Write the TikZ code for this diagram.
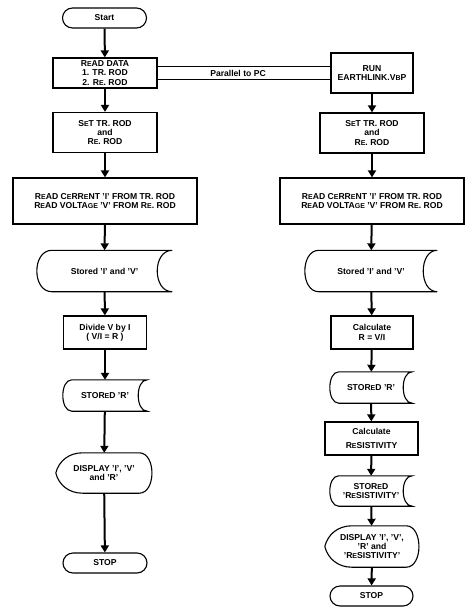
\documentclass[tikz,border=0pt]{standalone}
\usepackage{fontspec}
\setmainfont{Liberation Sans}
\usetikzlibrary{arrows.meta}

% smaller capitals inside the upper case words
\newcommand{\lowcap}[1]{{\fontsize{7}{8}\selectfont #1}}

\tikzset{
  txt/.style={align=center, inner sep=0pt, font=\bfseries\fontsize{8.6}{9.4}\selectfont},
  box/.style={txt, draw, line width=1.2pt},
  term/.style={txt, draw, line width=1.1pt, rounded corners=10pt},
  flow/.style={line width=2pt, -{Triangle[length=7pt,width=8pt]}},
}

\begin{document}
\begin{tikzpicture}[x=1pt, y=-1pt]
\useasboundingbox (0,0) rectangle (474,611);

% left column
\node[term, minimum width=84pt, minimum height=20pt] (start) at (104.5,18) {Start};
\node[box, minimum width=104pt, minimum height=30pt] (readdata) at (105,73) {R\lowcap{E}AD DATA\\ 1. TR. ROD\\ 2. R\lowcap{E}. ROD};
\node[box, minimum width=104pt, minimum height=40pt] (setL) at (105,132.5) {S\lowcap{E}T TR. ROD\\ and\\ R\lowcap{E}. ROD};
\node[box, minimum width=184pt, minimum height=46pt] (readL) at (105,201) {R\lowcap{E}AD C\lowcap{E}RR\lowcap{E}NT 'I' FROM TR. ROD\\ R\lowcap{E}AD VOLTA\lowcap{GE} 'V' FROM R\lowcap{E}. ROD};
\node[txt, minimum width=135pt, minimum height=41pt] (storeL) at (104.5,271) {Stored 'I' and 'V'};
\node[box, minimum width=83pt, minimum height=33pt] (divide) at (105,332.5) {Divide V by I\\ ( V/I = R )};
\node[txt, minimum width=84pt, minimum height=31pt] (storeRL) at (105,395.5) {STOR\lowcap{E}D 'R'};
\node[txt, minimum width=96pt, minimum height=40pt] (showL) at (104,473) {DISPLAY 'I', 'V'\\ and 'R'};
\node[term, minimum width=84pt, minimum height=20pt] (stopL) at (105,563) {STOP};

% right column
\node[box, minimum width=82pt, minimum height=40pt] (run) at (372,73) {RUN\\ EARTHLINK.V\lowcap{B}P};
\node[box, minimum width=104pt, minimum height=40pt] (setR) at (372,133) {S\lowcap{E}T TR. ROD\\ and\\ R\lowcap{E}. ROD};
\node[box, minimum width=184pt, minimum height=46pt] (readR) at (372,201) {R\lowcap{E}AD C\lowcap{E}RR\lowcap{E}NT 'I' FROM TR. ROD\\ R\lowcap{E}AD VOLTA\lowcap{GE} 'V' FROM R\lowcap{E}. ROD};
\node[txt, minimum width=132pt, minimum height=41pt] (storeR) at (371,271) {Stored 'I' and 'V'};
\node[box, minimum width=82pt, minimum height=33pt] (calc) at (372,332.5) {Calculate\\ R = V/I};
\node[txt, minimum width=82pt, minimum height=31pt] (storeRR) at (371,387.5) {STOR\lowcap{E}D 'R'};
\node[box, minimum width=93pt, minimum height=33pt] (calcres) at (371.5,438.5) {Calculate\\[5pt] R\lowcap{E}SISTIVITY};
\node[txt, minimum width=82pt, minimum height=30pt] (storeres) at (371,491) {STOR\lowcap{E}D\\ 'R\lowcap{E}SISTIVITY'};
\node[txt, minimum width=94pt, minimum height=41pt] (showR) at (372,546.5) {DISPLAY 'I', 'V',\\ 'R' and\\ 'R\lowcap{E}SISTIVITY'};
\node[term, minimum width=83pt, minimum height=20pt] (stopR) at (371.5,596) {STOP};

% stored data outlines
\foreach \n/\d in {storeL/15, storeR/14, storeRL/9, storeRR/9, storeres/9}
  \draw[line width=1.1pt] ([xshift=\d pt]\n.north west) -- (\n.north east)
    .. controls +({-1.33*\d},0) and +({-1.33*\d},0) .. (\n.south east)
    -- ([xshift=\d pt]\n.south west)
    .. controls +({-1.33*\d},0) and +({-1.33*\d},0) .. ([xshift=\d pt]\n.north west);

% display outlines
\foreach \n in {showL, showR}
  \draw[line width=1.1pt] (\n.west) .. controls +(3pt,12pt) and +(-14pt,0pt) .. ([xshift=27pt]\n.north west)
    -- ([xshift=-13pt]\n.north east)
    .. controls +(17pt,0pt) and +(17pt,0pt) .. ([xshift=-13pt]\n.south east)
    -- ([xshift=27pt]\n.south west)
    .. controls +(-14pt,0pt) and +(3pt,-12pt) .. (\n.west);

% link to the PC
\draw[line width=1.1pt] ([yshift=6.5pt]readdata.east) -- ([yshift=6.5pt]run.west);
\draw[line width=1.1pt] ([yshift=-6.5pt]readdata.east) -- ([yshift=-6.5pt]run.west);
\node[txt] (link) at (238,73) {Parallel to PC};

\draw[flow] (start) -- (readdata);
\draw[flow] (readdata) -- (setL);
\draw[flow] (setL) -- (readL);
\draw[flow] (readL) -- (storeL);
\draw[flow] (storeL) -- (divide);
\draw[flow] (divide) -- (storeRL);
\draw[flow] (storeRL) -- (showL);
\draw[flow] (showL) -- (stopL);

\draw[flow] (run) -- (setR);
\draw[flow] (setR) -- (readR);
\draw[flow] (readR) -- (storeR);
\draw[flow] (storeR) -- (calc);
\draw[flow] (calc) -- (storeRR);
\draw[flow] (storeRR) -- (calcres);
\draw[flow] (calcres) -- (storeres);
\draw[flow] (storeres) -- (showR);
\draw[flow] (showR) -- (stopR);
\end{tikzpicture}
\end{document}
